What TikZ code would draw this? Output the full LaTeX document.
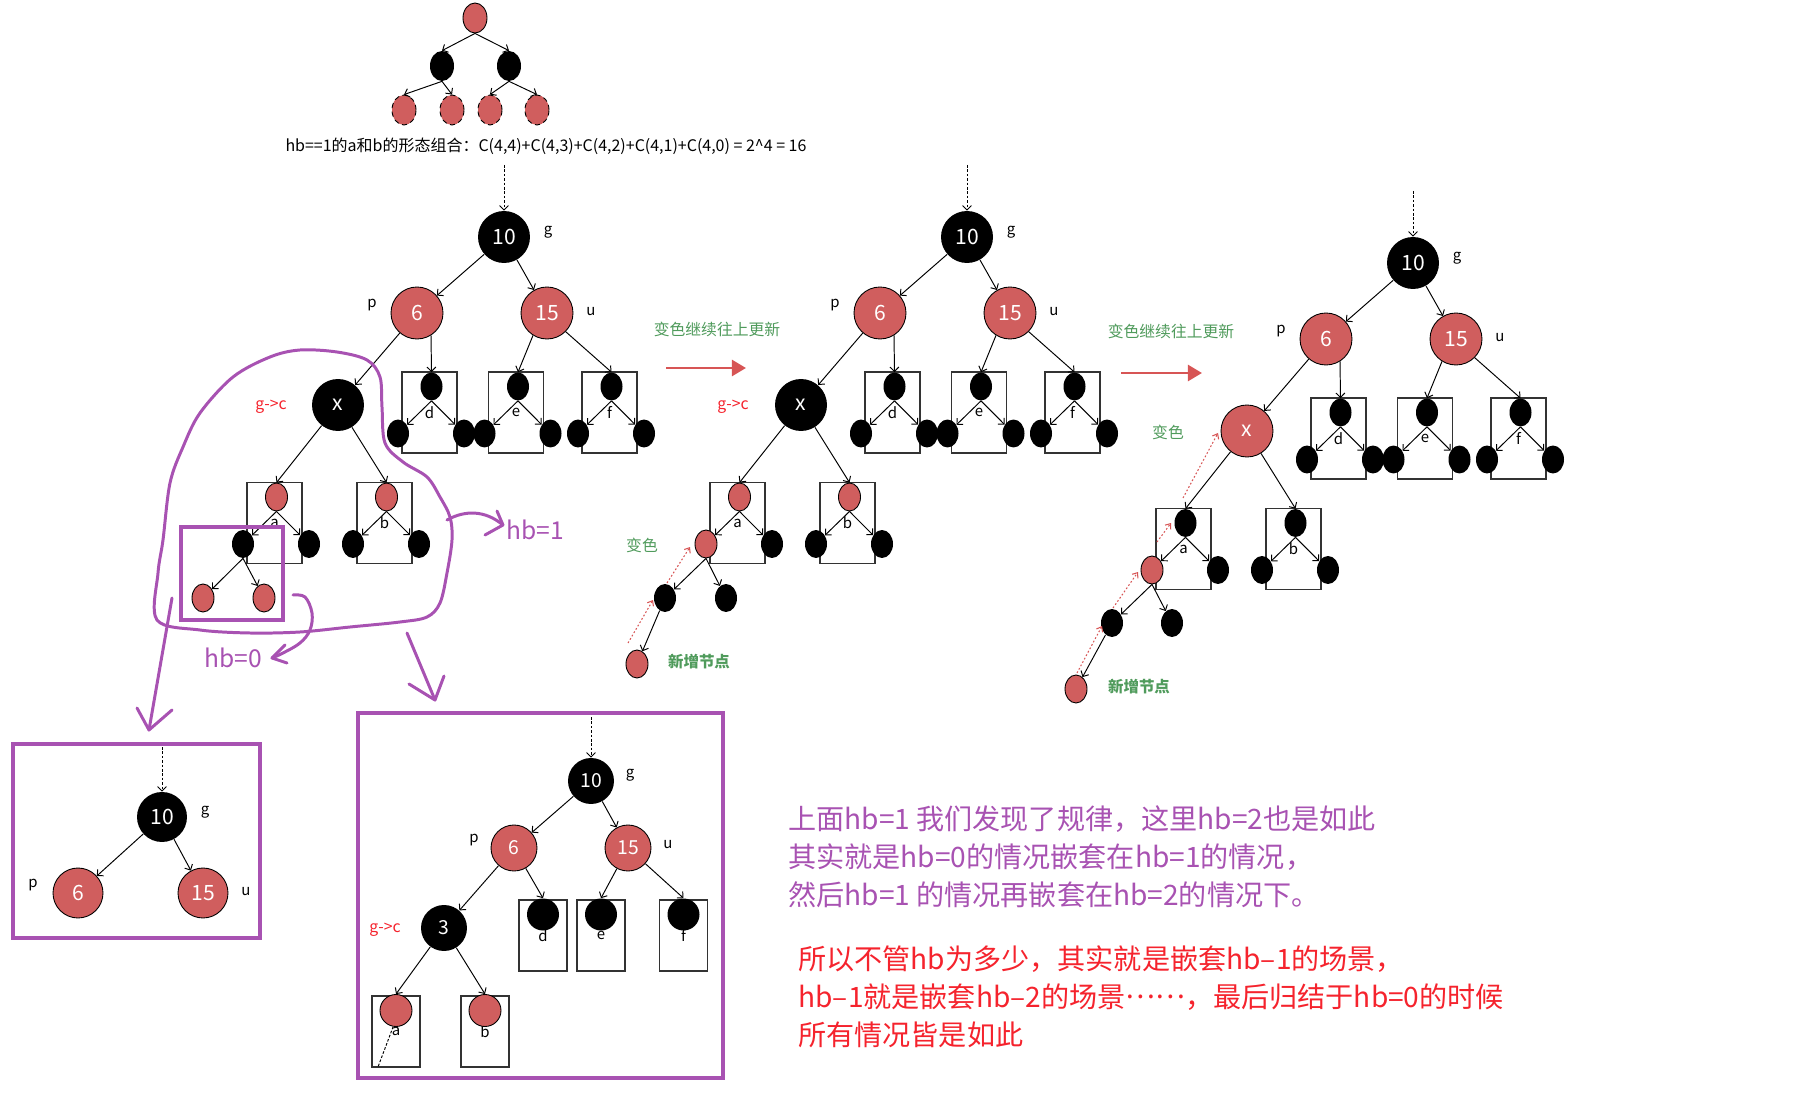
\documentclass[tikz,border=0pt]{standalone}
\usepackage{fontspec}
\setmainfont{Noto Sans CJK SC}
\usetikzlibrary{shapes.geometric,arrows.meta}

\definecolor{nodered}{RGB}{208,94,94}
\definecolor{hbpurple}{RGB}{168,82,178}
\definecolor{notegreen}{RGB}{80,155,92}
\definecolor{notered}{RGB}{245,35,45}
\definecolor{arrowred}{RGB}{215,85,85}

\tikzset{
  link/.style={draw, line width=0.55pt, -{Straight Barb[length=2.5pt,width=5pt]}},
  rootin/.style={link, dash pattern=on 1.5pt off 1pt},
  dotline/.style={draw, line width=0.55pt, dash pattern=on 1.5pt off 1pt},
  updot/.style={draw=arrowred, line width=0.6pt, dash pattern=on 1pt off 1.2pt, -{Straight Barb[length=2.5pt,width=4pt]}},
  bignode/.style={circle, minimum size=1.04cm, inner sep=0pt, font=\fontsize{12}{12}\selectfont},
  blk/.style={bignode, fill=black, text=white},
  rbig/.style={bignode, fill=nodered, draw=black, line width=0.5pt, text=white},
  bsmall/.style={ellipse, fill=black, minimum width=0.44cm, minimum height=0.56cm, inner sep=0pt},
  rsmall/.style={bsmall, fill=nodered, draw=black, line width=0.5pt},
  rdash/.style={rsmall, densely dashed, minimum width=0.48cm, minimum height=0.6cm},
  bdot/.style={circle, fill=black, minimum size=0.64cm, inner sep=0pt},
  rdot/.style={bdot, fill=nodered, draw=black, line width=0.5pt},
  lbl/.style={font=\fontsize{8.5}{9}\selectfont, inner sep=0pt},
  gc/.style={font=\fontsize{9}{9}\selectfont, text=notered, inner sep=0pt},
  greennote/.style={font=\fontsize{9}{9}\selectfont, text=notegreen, inner sep=0pt},
  newnote/.style={greennote, font=\fontsize{8.8}{9}\selectfont\bfseries},
  leafbox/.style={draw=black!80, line width=0.6pt, minimum width=1.1cm, minimum height=1.62cm, inner sep=0pt, font=\fontsize{8.5}{9}\selectfont},
  slimbox/.style={leafbox, minimum width=0.96cm, minimum height=1.42cm},
  hbline/.style={draw=hbpurple, line width=1.7pt, line cap=round, line join=round},
  hbframe/.style={draw=hbpurple, line width=2.3pt},
  hbtext/.style={text=hbpurple, font=\fontsize{14}{14}\selectfont, inner sep=0pt},
  bigtext/.style={font=\fontsize{16}{18}\selectfont, anchor=west, inner sep=0pt},
  stagearrow/.style={draw=arrowred, line width=1.7pt, -{Triangle[length=8pt,width=9pt]}},
}

% box with a small subtree: name, centre, top, left, right, label
\newcommand{\subbox}[6]{%
  \begin{scope}[shift={#2}]
    \node[leafbox] (#1) at (0,0) {#6};
    \node[#3] (#1t) at (2,-26) {};
    \node[#4] (#1l) at (-31.5,21) {};
    \node[#5] (#1r) at (34.5,21) {};
    \draw[link] (#1t.south) -- (#1l);
    \draw[link] (#1t.south) -- (#1r);
  \end{scope}}

% box with one node on top: name, centre, node, label
\newcommand{\tallbox}[4]{%
  \begin{scope}[shift={#2}]
    \node[slimbox] (#1) at (0,0) {#4};
    \node[#3] (#1c) at (0,-21) {};
  \end{scope}}

% g, p, u, x and the d e f boxes
\newcommand{\uppertree}[1]{%
  \coordinate (entry) at (0,-72);
  \node[blk] (g) at (0,0) {10};
  \node[lbl] (glab) at (44,-5) {g};
  \node[rbig] (p) at (-87,76) {6};
  \node[lbl] (plab) at (-132,68) {p};
  \node[rbig] (u) at (43,76) {15};
  \node[lbl] (ulab) at (87,75) {u};
  \node[#1] (x) at (-166,168) {x};
  \subbox{d}{(-74.5,175.5)}{bsmall}{bsmall}{bsmall}{d}
  \subbox{e}{(12,175.5)}{bsmall}{bsmall}{bsmall}{e}
  \subbox{f}{(105.5,175.5)}{bsmall}{bsmall}{bsmall}{f}
  \draw[rootin] (entry) -- (g);
  \draw[link] (g) -- (p);
  \draw[link] (g) -- (u);
  \draw[link] (p) -- (x);
  \draw[link] (p.-58) -- (dt.north);
  \draw[link] (u.-122) -- (et.north);
  \draw[link] (u.-45) -- (ft.north);}

\newcommand{\middots}{\raisebox{0.32em}{……}}

\begin{document}
\begin{tikzpicture}[x=0.02cm, y=-0.02cm]
    \path[use as bounding box] (0,0) rectangle (1796,1101);

    % the sixteen shapes of hb=1
    \node[rsmall, minimum width=0.48cm, minimum height=0.6cm] (top0) at (475,18) {};
    \node[bsmall, minimum width=0.48cm, minimum height=0.6cm] (mid1) at (442,66) {};
    \node[bsmall, minimum width=0.48cm, minimum height=0.6cm] (mid2) at (509,66) {};
    \node[rdash] (leaf1) at (404,110) {};
    \node[rdash] (leaf2) at (452,110) {};
    \node[rdash] (leaf3) at (490,110) {};
    \node[rdash] (leaf4) at (537,110) {};
    \draw[link] (top0.south) -- (mid1.north);
    \draw[link] (top0.south) -- (mid2.north);
    \draw[link] (mid1.south) -- (leaf1.north);
    \draw[link] (mid1.south) -- (leaf2.north);
    \draw[link] (mid2.south) -- (leaf3.north);
    \draw[link] (mid2.south) -- (leaf4.north);
    \node[lbl, font=\fontsize{9.1}{9}\selectfont] (combo) at (546,146) {hb==1的a和b的形态组合：C(4,4)+C(4,3)+C(4,2)+C(4,1)+C(4,0) = 2\textasciicircum4 = 16};

    % first tree
    \begin{scope}[shift={(504,237)}, name prefix=A-]
    \uppertree{blk}
    \node[gc] (gclab) at (-233,170) {g->c};
    \subbox{a}{(-229.5,286)}{rsmall}{bsmall}{bsmall}{a}
    \subbox{b}{(-119.5,286)}{rsmall}{bsmall}{bsmall}{b}
    \node[rsmall] (a1) at (-301,361) {};
    \node[rsmall] (a2) at (-240,361) {};
    \draw[link] (x) -- (at.north);
    \draw[link] (x) -- (bt.north);
    \draw[link] (al.south) -- (a1);
    \draw[link] (al.south) -- (a2);
    \end{scope}

    % second tree
    \begin{scope}[shift={(967,237)}, name prefix=B-]
    \uppertree{blk}
    \node[gc] (gclab) at (-234,170) {g->c};
    \subbox{a}{(-229.5,286)}{rsmall}{rsmall}{bsmall}{a}
    \subbox{b}{(-119.5,286)}{rsmall}{bsmall}{bsmall}{b}
    \node[bsmall] (a1) at (-302,361) {};
    \node[bsmall] (a2) at (-241,361) {};
    \node[rsmall] (new) at (-330,427) {};
    \node[greennote] (recol) at (-325,308) {变色};
    \node[newnote] (newlab) at (-268,425) {新增节点};
    \draw[link] (x) -- (at.north);
    \draw[link] (x) -- (bt.north);
    \draw[link] (al.south) -- (a1);
    \draw[link] (al.south) -- (a2);
    \draw[link] (a1) -- (new);
    \draw[updot] (-339,406) -- (-314,363);
    \draw[updot] (-300,346) -- (-277,310);
    \end{scope}

    % third tree
    \begin{scope}[shift={(1413,263)}, name prefix=C-]
    \uppertree{rbig}
    \node[greennote] (recol) at (-245,169) {变色};
    \subbox{a}{(-229.5,286)}{bsmall}{rsmall}{bsmall}{a}
    \subbox{b}{(-119.5,286)}{bsmall}{bsmall}{bsmall}{b}
    \node[bsmall] (a1) at (-301,360) {};
    \node[bsmall] (a2) at (-241,360) {};
    \node[rsmall] (new) at (-337,426) {};
    \node[newnote] (newlab) at (-274,424) {新增节点};
    \draw[link] (x) -- (at.north);
    \draw[link] (x) -- (bt.north);
    \draw[link] (al.south) -- (a1);
    \draw[link] (al.south) -- (a2);
    \draw[link] (a1) -- (new);
    \draw[updot] (-336,410) -- (-311,363);
    \draw[updot] (-300,345) -- (-275,309);
    \draw[updot] (-256,279) -- (-242,260);
    \draw[updot] (-230,235) -- (-195,170);
    \end{scope}

    % steps between the trees
    \node[greennote] (step1) at (717,329) {变色继续往上更新};
    \coordinate (s1a) at (666,368);
    \coordinate (s1b) at (746,368);
    \draw[stagearrow] (s1a) -- (s1b);
    \node[greennote] (step2) at (1171,331) {变色继续往上更新};
    \coordinate (s2a) at (1121,373);
    \coordinate (s2b) at (1202,373);
    \draw[stagearrow] (s2a) -- (s2b);

    % hb=0 case
    \begin{scope}[shift={(162,817)}, name prefix=E-]
    \coordinate (entry) at (0,-70);
    \node[blk, minimum size=1.0cm] (g) at (0,0) {10};
    \node[lbl] (glab) at (43,-5) {g};
    \node[rbig, minimum size=1.0cm] (p) at (-84,76) {6};
    \node[lbl] (plab) at (-129,68) {p};
    \node[rbig, minimum size=1.0cm] (u) at (41,76) {15};
    \node[lbl] (ulab) at (84,75) {u};
    \draw[rootin] (entry) -- (g);
    \draw[link] (g) -- (p);
    \draw[link] (g) -- (u);
    \end{scope}

    % hb=2 case
    \begin{scope}[shift={(591,781)}, name prefix=D-]
    \coordinate (entry) at (0,-64);
    \node[blk, minimum size=0.92cm, font=\fontsize{11}{11}\selectfont] (g) at (0,0) {10};
    \node[lbl] (glab) at (39,-6) {g};
    \node[rbig, minimum size=0.92cm, font=\fontsize{11}{11}\selectfont] (p) at (-77,67) {6};
    \node[lbl] (plab) at (-117,59) {p};
    \node[rbig, minimum size=0.92cm, font=\fontsize{11}{11}\selectfont] (u) at (37,67) {15};
    \node[lbl] (ulab) at (77,64) {u};
    \node[blk, minimum size=0.92cm, font=\fontsize{11}{11}\selectfont] (three) at (-147,147) {3};
    \node[gc] (gclab) at (-206,149) {g->c};
    \tallbox{d}{(-48,154.5)}{bdot}{d}
    \tallbox{e}{(10,154.5)}{bdot}{e}
    \tallbox{f}{(92.5,154.5)}{bdot}{f}
    \tallbox{a}{(-195,250.5)}{rdot}{a}
    \tallbox{b}{(-106,250.5)}{rdot}{b}
    \coordinate (tail) at (-213,286);
    \draw[rootin] (entry) -- (g);
    \draw[link] (g) -- (p);
    \draw[link] (g) -- (u);
    \draw[link] (p) -- (three);
    \draw[link] (p) -- (dc.north);
    \draw[link] (u) -- (ec.north);
    \draw[link] (u) -- (fc.north);
    \draw[link] (three) -- (ac.north);
    \draw[link] (three) -- (bc.north);
    \draw[dotline] (ac.-100) -- (tail);
    \end{scope}

    % purple hand marks
    \draw[hbline] plot[smooth cycle, tension=0.55] coordinates {(157,620) (158,573) (163,540) (170,483) (183,447) (200,413) (233,377) (270,357) (300,350) (337,352) (367,360) (380,377) (382,407) (385,443) (403,462) (427,477) (440,497) (450,517) (452,540) (447,573) (440,603) (427,617) (400,622) (350,627) (300,632) (250,633) (200,630)};
    \draw[hbframe] (181,527) rectangle (283,620);
    \coordinate (hb1a) at (447,520);
    \coordinate (hb1b) at (503,525);
    \draw[hbline] (hb1a) .. controls (465,510) and (485,510) .. (hb1b);
    \draw[hbline] (497,511) -- (hb1b) -- (485,535);
    \node[hbtext] (hbone) at (535,530) {hb=1};
    \coordinate (hb0a) at (293,595);
    \coordinate (hb0b) at (272,658);
    \draw[hbline] plot[smooth, tension=0.6] coordinates {(hb0a) (305,597) (312,613) (310,630) (300,643) (283,653) (hb0b)};
    \draw[hbline] (285,645) -- (hb0b) -- (287,663);
    \node[hbtext] (hbzero) at (233,658) {hb=0};
    \coordinate (dnA1) at (172,598);
    \coordinate (dnA2) at (149,730);
    \draw[hbline] (dnA1) -- (dnA2);
    \draw[hbline] (137,708) -- (dnA2) -- (172,710);
    \coordinate (dnB1) at (407,633);
    \coordinate (dnB2) at (435,700);
    \draw[hbline] (dnB1) -- (dnB2);
    \draw[hbline] (409,684) -- (dnB2) -- (444,676);
    \draw[hbframe] (13,744) rectangle (260,938);
    \draw[hbframe] (358,713) rectangle (723,1078);

    % notes
    \node[bigtext, text=hbpurple] (sum1) at (788,819) {上面hb=1 我们发现了规律，这里hb=2也是如此};
    \node[bigtext, text=hbpurple] (sum2) at (788,857) {其实就是hb=0的情况嵌套在hb=1的情况，};
    \node[bigtext, text=hbpurple] (sum3) at (788,895) {然后hb=1 的情况再嵌套在hb=2的情况下。};
    \node[bigtext, text=notered] (con1) at (798,959) {所以不管hb为多少，其实就是嵌套hb–1的场景，};
    \node[bigtext, text=notered] (con2) at (798,997) {hb–1就是嵌套hb–2的场景\middots，最后归结于hb=0的时候};
    \node[bigtext, text=notered] (con3) at (798,1035) {所有情况皆是如此};
\end{tikzpicture}
\end{document}
